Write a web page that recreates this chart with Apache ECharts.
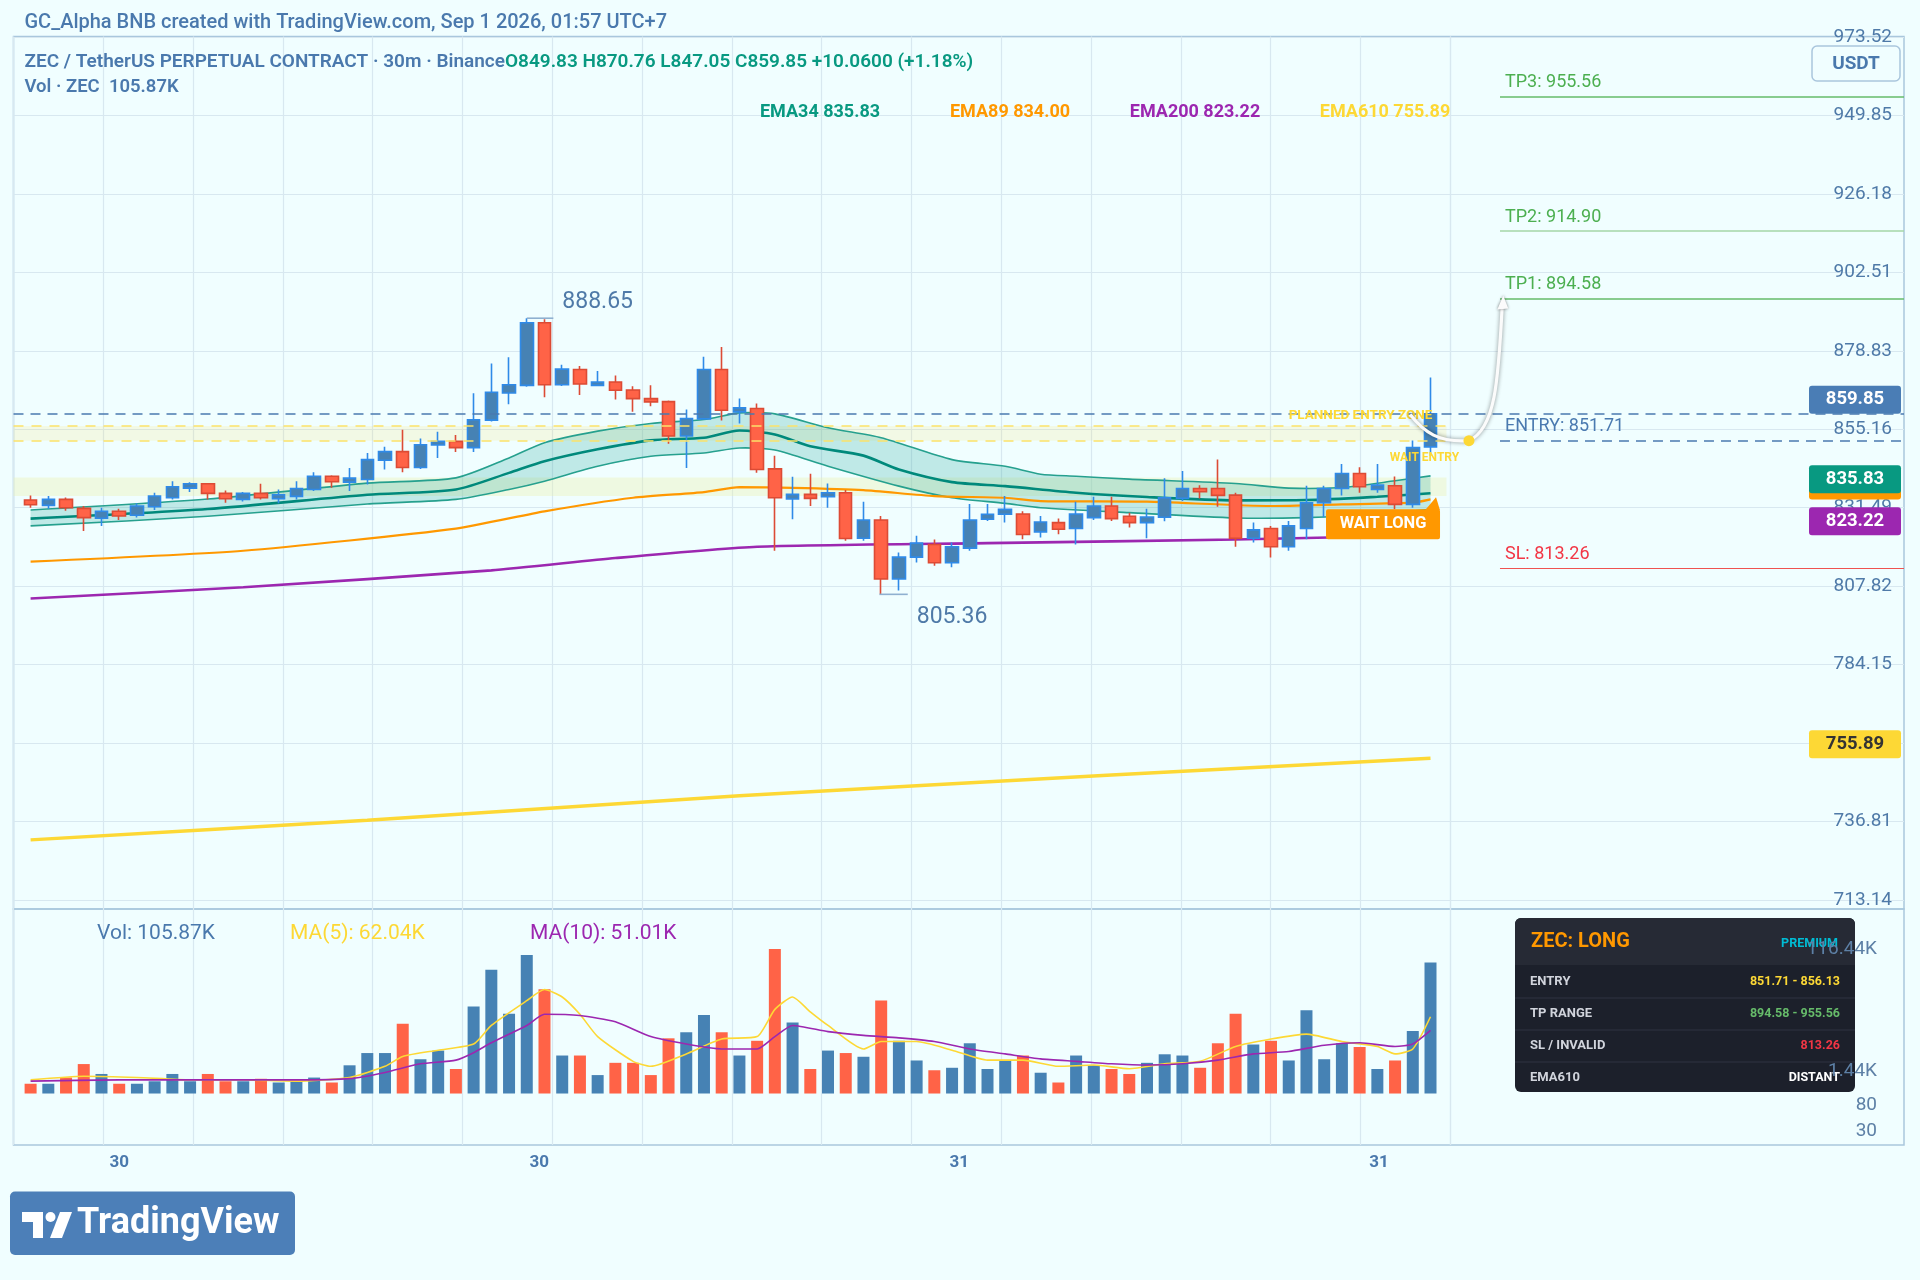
<!DOCTYPE html>
<html>
<head>
<meta charset="utf-8">
<title>ZEC / TetherUS PERPETUAL CONTRACT · 30m</title>
<script src="https://cdn.jsdelivr.net/npm/echarts@6.0.0/dist/echarts.min.js"></script>
<style>
html,body{margin:0;padding:0;background:#f0feff;}
#chart{width:1920px;height:1280px;}
</style>
</head>
<body>
<div id="chart"></div>
<script>
// ================= DATA =================
const opens = [833.8, 832.2, 834.0, 831.3, 828.3, 830.4, 829.2, 831.8, 834.5, 837.4,
  838.7, 835.8, 834.0, 835.8, 834.2, 834.9, 837.0, 841.0, 839.2, 840.0,
  845.8, 848.4, 843.6, 850.4, 851.5, 849.6, 857.9, 866.1, 868.4, 887.3,
  868.6, 873.2, 868.4, 869.4, 867.0, 864.4, 863.5, 853.1, 858.3, 873.2,
  860.4, 861.4, 843.2, 834.1, 835.5, 834.8, 836.0, 822.3, 827.8, 810.0,
  816.6, 820.4, 814.9, 819.3, 828.0, 829.5, 829.6, 824.2, 827.0, 825.2,
  828.5, 832.0, 828.9, 827.0, 828.6, 834.3, 837.3, 837.3, 835.3, 822.3,
  825.2, 819.7, 825.2, 833.0, 837.3, 841.8, 837.0, 838.1, 832.5, 849.83];
const closes = [832.4, 834.0, 831.5, 828.5, 830.4, 829.0, 832.0, 835.0, 837.8, 838.7,
  835.8, 834.2, 835.8, 834.5, 835.4, 837.3, 841.0, 839.3, 840.4, 846.0,
  848.4, 843.6, 850.5, 851.5, 849.6, 858.0, 866.3, 868.6, 887.3, 868.6,
  873.3, 868.8, 869.4, 866.9, 864.4, 863.4, 853.1, 858.4, 873.2, 860.9,
  861.6, 843.0, 834.5, 835.5, 834.3, 836.0, 822.2, 827.8, 810.0, 816.6,
  820.8, 814.9, 819.7, 827.8, 829.5, 831.0, 823.4, 827.2, 825.0, 829.6,
  832.0, 828.2, 827.0, 828.7, 834.5, 837.3, 836.3, 835.2, 822.3, 824.8,
  819.7, 826.0, 833.0, 837.3, 841.8, 837.8, 838.3, 832.5, 849.6, 859.85];
const lows = [831.5, 831.2, 830.6, 824.5, 826.0, 827.8, 828.5, 830.8, 834.0, 836.2,
  834.0, 833.0, 833.4, 834.0, 832.8, 834.0, 836.5, 837.5, 836.5, 838.5,
  843.0, 842.2, 843.2, 846.5, 848.3, 848.3, 857.5, 862.7, 868.0, 864.8,
  868.2, 865.5, 868.2, 864.1, 860.4, 862.1, 850.8, 843.5, 858.0, 857.8,
  856.9, 842.0, 818.5, 828.0, 832.0, 831.5, 821.5, 821.5, 805.36, 806.5,
  815.0, 814.0, 813.5, 818.5, 827.5, 827.0, 822.0, 822.5, 823.5, 820.4,
  827.8, 827.5, 825.5, 822.3, 827.4, 833.5, 834.3, 831.8, 819.7, 821.0,
  816.5, 818.5, 822.0, 828.6, 835.2, 836.0, 836.0, 831.0, 831.5, 847.05];
const highs = [835.2, 835.0, 834.6, 832.0, 831.5, 831.2, 832.8, 836.0, 839.5, 839.2,
  838.9, 836.7, 836.2, 838.7, 837.0, 839.5, 842.2, 841.3, 843.5, 848.0,
  849.9, 855.0, 852.4, 854.4, 853.4, 866.0, 875.0, 876.9, 888.65, 888.3,
  874.6, 874.2, 872.7, 871.4, 868.1, 868.4, 863.8, 861.1, 877.0, 880.0,
  864.4, 862.9, 847.2, 840.8, 841.7, 838.8, 836.8, 833.3, 829.0, 818.0,
  823.0, 821.9, 821.0, 832.6, 832.6, 835.0, 830.4, 829.0, 828.2, 833.3,
  834.8, 834.8, 830.0, 831.2, 840.4, 842.6, 838.3, 846.0, 836.0, 827.0,
  826.0, 827.5, 838.1, 838.1, 844.7, 843.7, 844.7, 840.9, 851.8, 870.76];
// volume in thousands
const volumes = [7.9, 7.9, 12.9, 23.8, 15.8, 7.9, 7.9, 9.9, 15.8, 9.9,
  15.8, 9.9, 9.9, 11.9, 8.9, 9.9, 12.9, 8.9, 22.8, 32.7,
  32.7, 56.4, 27.7, 34.7, 19.8, 70.3, 100.0, 64.4, 111.9, 84.2,
  30.7, 30.7, 14.9, 24.8, 24.8, 14.9, 44.6, 49.5, 63.4, 49.5,
  30.7, 42.6, 116.8, 57.4, 19.8, 34.7, 32.7, 29.7, 75.2, 42.6,
  26.7, 18.8, 20.8, 40.6, 19.8, 26.7, 30.7, 16.8, 8.9, 30.7,
  22.8, 19.8, 15.8, 24.8, 31.7, 30.7, 20.8, 40.6, 64.4, 39.6,
  42.6, 26.7, 67.3, 27.7, 40.6, 37.6, 19.8, 26.7, 50.5, 105.87];

// moving-average readings [candle index, value in K]
const ma5 = [[0,11],[3,14],[6,13],[9,11],[12,11],[15,10],[18,13],[20,22],[21,30],[23,35],[25,40],[26,55],[28,75],[29,84],[30,78],[31,64],[32,46],[34,26],[35,22],[37,32],[39,44],[41,46],[42,68],[43,78],[44,66],[45,55],[47,36],[48,42],[50,42],[52,35],[54,27],[56,27],[58,22],[60,23],[62,20],[64,24],[66,26],[68,38],[70,44],[72,48],[74,42],[76,38],[77,32],[78,36],[79,62.04]];
const ma10 = [[0,10],[5,11],[10,11],[15,11],[18,12],[20,17],[22,24],[24,27],[25,33],[26,41],[28,55],[29,64],[31,63],[33,58],[35,46],[37,40],[39,36],[41,36],[42,46],[43,55],[45,50],[47,47],[49,45],[51,42],[53,36],[55,32],[57,28],[59,26],[61,24],[63,23],[65,24],[67,27],[69,32],[71,34],[73,39],[75,41],[77,38],[78,40],[79,51.01]];

// EMA readings [candle index, price]
const ema34 = [[0,828.2],[10,831.1],[19,835.4],[24,837.0],[27,842.0],[29,845.5],[32,849.1],[35,851.8],[38,852.6],[40,854.8],[42,853.6],[44,850.0],[47,847.2],[49,843.0],[52,839.2],[55,838.0],[59,836.0],[63,834.7],[68,833.7],[72,833.8],[76,834.8],[79,835.83]];
const ema34Upper = [[0,830.8],[10,834.1],[19,838.9],[24,840.5],[27,846.5],[29,851.1],[32,854.6],[35,856.9],[38,858.1],[40,860.1],[42,859.8],[45,855.6],[48,852.6],[52,846.0],[55,844.0],[57,841.6],[59,841.0],[62,840.1],[68,838.8],[71,837.4],[74,837.6],[77,839.6],[79,841.1]];
const ema34Lower = [[0,826.0],[10,828.9],[19,832.6],[24,834.0],[27,837.0],[29,839.5],[32,844.0],[35,847.0],[38,848.0],[40,849.5],[42,848.9],[45,844.0],[49,838.0],[52,834.5],[55,832.8],[57,831.5],[62,830.0],[68,828.4],[72,828.5],[76,829.5],[79,831.0]];
const ema89 = [[0,815.2],[12,818.5],[24,825.2],[29,830.4],[34,834.5],[38,836.2],[40,837.7],[43,837.5],[47,836.8],[51,835.0],[55,834.5],[57,833.5],[63,833.3],[70,832.0],[74,832.5],[78,833.0],[79,834.0]];
const ema200 = [[0,804.1],[12,807.5],[26,812.6],[33,816.3],[41,819.7],[54,820.8],[68,821.9],[79,823.22]];
const ema610 = [[0,731.3],[19,737.2],[40,744.6],[61,750.9],[79,755.89]];

const emaNames = ['EMA34', 'EMA89', 'EMA200', 'EMA610'];
const emaLast = [835.83, 834.00, 823.22, 755.89];

// axis tick labels
const priceTicks = [713.14, 736.81, 760.48, 784.15, 807.82, 831.49, 855.16, 878.83, 902.51, 926.18, 949.85, 973.52];
const volTickValues = [116.44, 17.8, -9.86, -30.7];
const volTickLabels = ['116.44K', '1.44K', '80', '30'];
const dateTickPos = [5, 28.7, 52.4, 76.1];
const dateTickLabels = ['30', '30', '31', '31'];

// trade levels
const levelNames = ['TP3', 'TP2', 'TP1', 'ENTRY', 'SL'];
const levelValues = [955.56, 914.90, 894.58, 851.71, 813.26];
const entryZone = [851.71, 856.13];
const emaZone = [835.0, 840.6];

// info panel
const panelLabels = ['ENTRY', 'TP RANGE', 'SL / INVALID', 'EMA610'];
const panelValues = ['851.71 - 856.13', '894.58 - 955.56', '813.26', 'DISTANT'];

// ================= CHART =================
const FONT = 'Roboto, "Noto Sans", sans-serif';
const UP = '#4682b4', DOWN = '#ff6347';
const TXT = '#4a79ad';
const GRIDC = '#d8e8f0';
const XMIN = -0.965, XMAX = 105.72, ZONE_END = 79.9, LEVEL_START = 82.92;
const last = opens.length - 1;

const candleData = opens.map((o, i) => [i, o, closes[i], lows[i], highs[i]]);
const volData = volumes.map((v, i) => ({ value: [i, v], itemStyle: { color: closes[i] >= opens[i] ? UP : DOWN } }));

function nearestLabel(v, vals, labels) {
  let k = 0;
  vals.forEach((t, i) => { if (Math.abs(t - v) < Math.abs(vals[k] - v)) k = i; });
  return labels[k];
}

const levelColors = { TP3: '#66bb6a', TP2: '#a5d6a7', TP1: '#66bb6a', ENTRY: '#4a7ab0', SL: '#ef5350' };
const levelTextColors = { TP3: '#4caf50', TP2: '#4caf50', TP1: '#4caf50', ENTRY: '#4a7ab0', SL: '#f23645' };
const levelLines = levelNames.map((n, i) => [
  { coord: [LEVEL_START, levelValues[i]],
    lineStyle: { color: levelColors[n], width: n === 'SL' ? 1.2 : 1.5, type: n === 'ENTRY' ? [10, 7] : 'solid' },
    label: { show: true, position: 'insideStartTop', formatter: n + ': ' + levelValues[i].toFixed(2),
             color: levelTextColors[n], fontSize: 18, fontFamily: FONT, distance: 5 } },
  { coord: [XMAX, levelValues[i]] }
]);

const chart = echarts.init(document.getElementById('chart'), null, { width: 1920, height: 1280 });

const option = {
  animation: false,
  backgroundColor: '#f0feff',
  textStyle: { fontFamily: FONT },
  grid: [
    { left: 13.5, right: 16, top: 36.5, height: 872.5, show: true, borderColor: '#a9c7dd', borderWidth: 1.5, containLabel: false, outerBoundsMode: 'none' },
    { left: 13.5, right: 16, top: 909, bottom: 135, show: true, borderColor: '#a9c7dd', borderWidth: 1.5, containLabel: false, outerBoundsMode: 'none' },
    { left: 13.5, width: 1437, top: 36.5, bottom: 135, show: false, containLabel: false, outerBoundsMode: 'none' }
  ],
  xAxis: [
    { type: 'value', gridIndex: 0, min: XMIN, max: XMAX, show: false },
    { type: 'value', gridIndex: 1, min: XMIN, max: XMAX,
      axisLine: { show: false }, axisTick: { show: false }, splitLine: { show: false },
      axisLabel: { customValues: dateTickPos, formatter: v => nearestLabel(v, dateTickPos, dateTickLabels),
                   color: TXT, fontWeight: 'bold', fontSize: 17, margin: 9, fontFamily: FONT } },
    { type: 'value', gridIndex: 2, min: 0, max: 1437, interval: 89.8,
      axisLine: { show: false }, axisTick: { show: false }, axisLabel: { show: false },
      splitLine: { show: true, lineStyle: { color: GRIDC, width: 1.2 } } }
  ],
  yAxis: [
    { type: 'value', gridIndex: 0, position: 'right', min: 710.45, max: 973.62,
      axisLine: { show: false },
      axisTick: { show: false, customValues: priceTicks },
      axisLabel: { inside: true, customValues: priceTicks, formatter: v => v.toFixed(2), color: '#4f7aa8', fontSize: 19, margin: 12, fontFamily: FONT },
      splitLine: { show: true, lineStyle: { color: GRIDC, width: 1.2 } } },
    { type: 'value', gridIndex: 1, position: 'right', min: -41.6, max: 149.1, z: 30,
      axisLine: { show: false },
      axisTick: { show: false, customValues: volTickValues },
      axisLabel: { inside: true, customValues: volTickValues, formatter: v => nearestLabel(v, volTickValues, volTickLabels),
                   color: '#5d80a6', fontSize: 19, margin: 27, fontFamily: FONT },
      splitLine: { show: false } },
    { type: 'value', gridIndex: 2, min: 0, max: 1, show: false }
  ],
  series: [
    { name: 'EMA610', type: 'line', xAxisIndex: 0, yAxisIndex: 0, data: ema610, showSymbol: false, smooth: 0.2, z: 1,
      lineStyle: { color: '#fdd835', width: 3.5 }, silent: true,
      markArea: { silent: true, data: [
        [{ coord: [XMIN, entryZone[0]], itemStyle: { color: 'rgba(253,216,53,0.13)' } }, { coord: [ZONE_END, entryZone[1]] }],
        [{ coord: [XMIN, emaZone[0]], itemStyle: { color: 'rgba(236,240,170,0.35)' } }, { coord: [ZONE_END, emaZone[1]] }]
      ] },
      markLine: { silent: true, symbol: ['none', 'none'], label: { show: false }, data: [
        [{ coord: [XMIN, entryZone[1]], lineStyle: { color: '#fbe26a', type: [10, 8], width: 1.6 } }, { coord: [ZONE_END, entryZone[1]] }],
        [{ coord: [XMIN, entryZone[0]], lineStyle: { color: '#fbe26a', type: [10, 8], width: 1.6 } }, { coord: [ZONE_END, entryZone[0]] }]
      ] } },
    { name: 'EMA34 band', type: 'custom', xAxisIndex: 0, yAxisIndex: 0, data: [[0, ema34[0][1]]], z: 1, silent: true,
      renderItem: (params, api) => {
        const up = ema34Upper.map(p => api.coord(p));
        const lo = ema34Lower.map(p => api.coord(p));
        return { type: 'group', children: [
          { type: 'polygon', shape: { points: up.concat(lo.slice().reverse()) }, style: { fill: 'rgba(38,166,154,0.24)' } },
          { type: 'polyline', shape: { points: up, smooth: 0.25 }, style: { stroke: '#26a08e', lineWidth: 1.6, fill: 'none' } },
          { type: 'polyline', shape: { points: lo, smooth: 0.25 }, style: { stroke: '#26a08e', lineWidth: 1.6, fill: 'none' } }
        ] };
      } },
    { name: 'EMA200', type: 'line', xAxisIndex: 0, yAxisIndex: 0, data: ema200, showSymbol: false, smooth: 0.2, z: 2,
      lineStyle: { color: '#9c27b0', width: 2.6 }, silent: true },
    { name: 'EMA89', type: 'line', xAxisIndex: 0, yAxisIndex: 0, data: ema89, showSymbol: false, smooth: 0.2, z: 2,
      lineStyle: { color: '#ff9800', width: 2.2 }, silent: true },
    { name: 'EMA34', type: 'line', xAxisIndex: 0, yAxisIndex: 0, data: ema34, showSymbol: false, smooth: 0.25, z: 2,
      lineStyle: { color: '#00897b', width: 2.6 }, silent: true },
    { name: 'ZEC', type: 'candlestick', xAxisIndex: 0, yAxisIndex: 0, data: candleData, encode: { x: 0, y: [1, 2, 3, 4] },
      barWidth: 13, z: 3,
      itemStyle: { color: UP, color0: DOWN, borderColor: '#2f8ae8', borderColor0: '#dc4b35', borderWidth: 1.6 },
      markLine: { silent: true, symbol: ['none', 'none'], label: { show: false }, z: 4, data: [
        [{ coord: [XMIN, closes[last]], lineStyle: { color: '#4a7ab0', type: [10, 7], width: 1.6 } }, { coord: [XMAX, closes[last]] }]
      ].concat(levelLines) } },
    { name: 'Vol', type: 'bar', xAxisIndex: 1, yAxisIndex: 1, data: volData, barWidth: 12, z: 2, silent: true },
    { name: 'MA5', type: 'line', xAxisIndex: 1, yAxisIndex: 1, data: ma5, showSymbol: false, smooth: 0.2, z: 3,
      lineStyle: { color: '#fdd835', width: 1.6 }, silent: true },
    { name: 'MA10', type: 'line', xAxisIndex: 1, yAxisIndex: 1, data: ma10, showSymbol: false, smooth: 0.2, z: 3,
      lineStyle: { color: '#9c27b0', width: 1.6 }, silent: true }
  ]
};
chart.setOption(option);

// ================= ANNOTATIONS (positioned through the axes) =================
const px = (x, y) => chart.convertToPixel({ xAxisIndex: 0, yAxisIndex: 0 }, [x, y]);
const T = (x, y, text, fill, size, weight, align, extra) => Object.assign({
  type: 'text', x: x, y: y,
  style: { text: text, fill: fill, fontSize: size, fontWeight: weight || 'normal', fontFamily: FONT, align: align || 'left', verticalAlign: 'middle' }
}, extra || {});

const g = [];
// header
g.push(T(24.5, 23, 'GC_Alpha BNB created with TradingView.com, Sep 1 2026, 01:57 UTC+7', TXT, 20, 500));
const ohlc = 'O' + opens[last].toFixed(2) + ' H' + highs[last].toFixed(2) + ' L' + lows[last].toFixed(2) + ' C' + closes[last].toFixed(2) + ' +10.0600 (+1.18%)';
g.push({ type: 'text', x: 24.5, y: 62, style: {
  text: '{a|ZEC / TetherUS PERPETUAL CONTRACT · 30m · Binance}{b|' + ohlc + '}', verticalAlign: 'middle',
  rich: { a: { fill: TXT, fontSize: 19, fontWeight: 600, fontFamily: FONT }, b: { fill: '#089981', fontSize: 19, fontWeight: 600, fontFamily: FONT } } } });
g.push(T(24.5, 87, 'Vol · ZEC  ' + volumes[last].toFixed(2) + 'K', TXT, 18.5, 600));

// EMA legend
const emaColors = ['#089981', '#ff9800', '#9c27b0', '#fdd835'];
const emaLegendX = [820, 1010, 1195, 1385];
emaNames.forEach((n, i) => g.push(T(emaLegendX[i], 112, n + ' ' + emaLast[i].toFixed(2), emaColors[i], 18, 'bold', 'center')));

// volume legend
g.push(T(97, 934, 'Vol: ' + volumes[last].toFixed(2) + 'K', TXT, 21, 'normal'));
g.push(T(290, 934, 'MA(5): ' + ma5[ma5.length - 1][1].toFixed(2) + 'K', '#fdd835', 21, 'normal'));
g.push(T(530, 934, 'MA(10): ' + ma10[ma10.length - 1][1].toFixed(2) + 'K', '#9c27b0', 21, 'normal'));

// high / low markers
const hiIdx = highs.indexOf(Math.max(...highs));
const loIdx = lows.indexOf(Math.min(...lows));
const h1 = px(hiIdx, highs[hiIdx]), h2 = px(hiIdx + 1.5, highs[hiIdx]), hl = px(hiIdx + 4, highs[hiIdx]);
g.push({ type: 'line', z: 6, shape: { x1: h1[0], y1: h1[1], x2: h2[0], y2: h2[1] }, style: { stroke: '#8fb0d0', lineWidth: 1.6 } });
g.push(T(hl[0], hl[1] - 16, highs[hiIdx].toFixed(2), '#4f7aa8', 23, 'normal', 'center', { z: 6 }));
const l1 = px(loIdx - 0.1, lows[loIdx]), l2 = px(loIdx + 1.5, lows[loIdx]), ll = px(loIdx + 4, lows[loIdx]);
g.push({ type: 'line', z: 6, shape: { x1: l1[0], y1: l1[1], x2: l2[0], y2: l2[1] }, style: { stroke: '#8fb0d0', lineWidth: 1.6 } });
g.push(T(ll[0], ll[1] + 23, lows[loIdx].toFixed(2), '#4f7aa8', 23, 'normal', 'center', { z: 6 }));

// planned entry annotations
const pz = px(75.05, 859.3);
g.push(T(pz[0], pz[1], 'PLANNED ENTRY ZONE', '#fdd835', 13.5, 'bold', 'center', { z: 7 }));
const we = px(78.66, 846.4);
g.push(T(we[0], we[1], 'WAIT ENTRY', '#fdd835', 12, 'bold', 'center', { z: 7 }));
const cs = px(77.85, 859.6), dot = px(81.17, levelValues[3]), tip = px(83.05, levelValues[2]);
const curveStyle = { stroke: '#fbfbfb', lineWidth: 3.2, fill: 'none', shadowBlur: 4, shadowColor: 'rgba(0,0,0,0.45)' };
g.push({ type: 'bezierCurve', z: 8, shape: { x1: cs[0], y1: cs[1], cpx1: cs[0] + 14, cpy1: cs[1] + 18, cpx2: dot[0] - 30, cpy2: dot[1] + 2, x2: dot[0], y2: dot[1] }, style: curveStyle });
g.push({ type: 'bezierCurve', z: 8, shape: { x1: dot[0], y1: dot[1], cpx1: dot[0] + 26, cpy1: dot[1] - 12, cpx2: tip[0] - 4, cpy2: tip[1] + 85, x2: tip[0], y2: tip[1] + 6 }, style: curveStyle });
g.push({ type: 'polygon', z: 9, shape: { points: [[tip[0] + 1, tip[1] - 3], [tip[0] - 5, tip[1] + 11], [tip[0] + 6, tip[1] + 10]] },
  style: { fill: '#fbfbfb', shadowBlur: 3, shadowColor: 'rgba(0,0,0,0.45)' } });
g.push({ type: 'circle', z: 9, shape: { cx: dot[0], cy: dot[1], r: 5.5 }, style: { fill: '#fdd835' } });

// WAIT LONG badge
const wl = px(76.32, 826.5);
const wlL = wl[0] - 57, wlT = wl[1] - 15;
g.push({ type: 'polygon', z: 9, shape: { points: [[wlL + 99, wlT + 1], [wlL + 114, wlT + 1], [wlL + 110, wlT - 12]] }, style: { fill: '#ff9800' } });
g.push({ type: 'rect', z: 9, shape: { x: wlL, y: wlT, width: 114, height: 30, r: 2 }, style: { fill: '#ff9800' } });
g.push(T(wl[0], wl[1], 'WAIT LONG', '#ffffff', 16.5, 'bold', 'center', { z: 10 }));

// price badges on the right scale (each one stacked above the previous)
let bz = 20;
function badge(price, bg, fg) {
  const y = px(0, price)[1];
  g.push({ type: 'rect', z: bz, shape: { x: 1809, y: y - 28, width: 92, height: 28, r: 3 }, style: { fill: bg } });
  g.push(T(1855, y - 14, price.toFixed(2), fg, 18.5, 'bold', 'center', { z: bz + 1 }));
  bz += 2;
}
badge(emaLast[1], '#ff9800', '#ffffff');
badge(closes[last], '#4a7db5', '#ffffff');
badge(emaLast[0], '#089981', '#ffffff');
badge(emaLast[2], '#9c27b0', '#ffffff');
badge(emaLast[3], '#fdd835', '#333333');

// USDT box
g.push({ type: 'rect', z: 20, shape: { x: 1812, y: 46, width: 88, height: 35, r: 5 }, style: { fill: '#f0feff', stroke: '#a9c6dd', lineWidth: 1.5 } });
g.push(T(1856, 64, 'USDT', TXT, 19, 'bold', 'center', { z: 21 }));

// info panel
const PX = 1515, PY = 918, PW = 340, PH = 174;
g.push({ type: 'rect', z: 5, shape: { x: PX, y: PY, width: PW, height: PH, r: 6 }, style: { fill: '#1c202b' } });
g.push({ type: 'rect', z: 5, shape: { x: PX, y: PY, width: PW, height: 47, r: [6, 6, 0, 0] }, style: { fill: '#262a35' } });
g.push(T(PX + 16, PY + 24, 'ZEC: LONG', '#ff9800', 20, 'bold', 'left', { z: 6 }));
g.push(T(PX + 323, PY + 26, 'PREMIUM', '#00bcd4', 12.5, 'bold', 'right', { z: 6 }));
const rowColors = ['#fdd835', '#66bb6a', '#f23645', '#ffffff'];
panelLabels.forEach((lab, i) => {
  const cy = PY + 64 + i * 32;
  if (i > 0) g.push({ type: 'line', z: 6, shape: { x1: PX, y1: cy - 16, x2: PX + PW, y2: cy - 16 }, style: { stroke: '#2e3342', lineWidth: 1 } });
  g.push(T(PX + 15, cy, lab, '#d1d4dc', 13, 'bold', 'left', { z: 6 }));
  g.push(T(PX + 325, cy, panelValues[i], rowColors[i], 12.5, 'bold', 'right', { z: 6 }));
});

// TradingView logo
g.push({ type: 'rect', z: 20, shape: { x: 10, y: 1191.5, width: 285, height: 63.5, r: 5 }, style: { fill: '#4c7fb8' } });
g.push({ type: 'polygon', z: 21, shape: { points: [[22, 1212], [43, 1212], [43, 1238], [33, 1238], [33, 1222], [22, 1222]] }, style: { fill: '#ffffff' } });
g.push({ type: 'circle', z: 21, shape: { cx: 50.5, cy: 1217, r: 5 }, style: { fill: '#ffffff' } });
g.push({ type: 'polygon', z: 21, shape: { points: [[60, 1212], [72, 1212], [62, 1238], [50, 1238]] }, style: { fill: '#ffffff' } });
g.push(T(77, 1224, 'TradingView', '#ffffff', 36, 'bold', 'left', { z: 21 }));

chart.setOption({ graphic: { elements: g } });
</script>
</body>
</html>
